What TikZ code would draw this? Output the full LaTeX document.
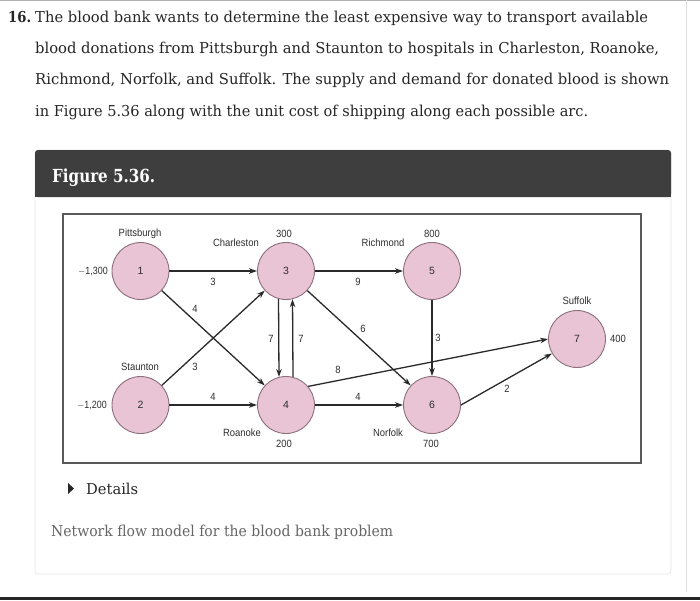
\documentclass[tikz,border=0pt]{standalone}
\usepackage{fontspec}
\usepackage{graphicx}
\setmainfont{DejaVu Serif}
\newfontfamily\figsans{Liberation Sans}
\usetikzlibrary{arrows.meta}
\definecolor{txtc}{HTML}{262626}
\definecolor{headc}{HTML}{3E3E3E}
\definecolor{capc}{HTML}{666666}
\definecolor{cardc}{HTML}{E4E4E4}
\definecolor{pinkc}{HTML}{E8C4D4}
\definecolor{nodeb}{HTML}{8C6E7C}
\definecolor{edgec}{HTML}{2A2A2A}
\definecolor{figtxt}{HTML}{2E2E2E}
\newcommand\fitw[2]{\resizebox{#1pt}{\height}{#2}}
\newcommand\nw[1]{\scalebox{0.9}[1]{#1}}
\tikzset{
  para/.style={anchor=base west, inner sep=0pt, text=txtc, font=\fontsize{15}{18}\selectfont},
  city/.style={circle, minimum size=57pt, inner sep=0pt, fill=pinkc, draw=nodeb, line width=0.9pt, text=figtxt, font=\figsans\fontsize{10.5}{12}\selectfont},
  lab/.style={inner sep=0pt, text=figtxt, font=\figsans\fontsize{10.5}{12}\selectfont},
  arr/.style={draw=edgec, line width=1.3pt, -{Stealth[length=8pt,width=5.5pt]}},
}
\begin{document}
\begin{tikzpicture}[x=1pt,y=-1pt]
\useasboundingbox (0,0) rectangle (700,600);
\fill[white] (0,0) rectangle (700,600);
% page frame lines
\draw[gray!60, line width=1pt] (0,0.5) -- (700,0.5);
\draw[gray!25, line width=0.8pt] (686,0) -- (686,592);
\draw[black!85, line width=3pt] (0,598) -- (700,598);
% question text
\node[para, font=\bfseries\fontsize{15}{18}\selectfont] (qnum) at (8,22) {\fitw{23}{16.}};
\node[para] (l1) at (35,22) {\fitw{613}{The blood bank wants to determine the least expensive way to transport available}};
\node[para] (l2) at (35,53) {\fitw{624}{blood donations from Pittsburgh and Staunton to hospitals in Charleston, Roanoke,}};
\node[para] (l3) at (35,84) {\fitw{634}{Richmond, Norfolk, and Suffolk. The supply and demand for donated blood is shown}};
\node[para] (l4) at (35,116) {\fitw{553}{in Figure 5.36 along with the unit cost of shipping along each possible arc.}};
% card
\draw[cardc, line width=0.8pt, rounded corners=3pt] (35,150) rectangle (671,574);
\fill[headc, rounded corners=3pt] (35,150) rectangle (671,197);
\fill[headc] (35,190) rectangle (671,197);
\node[anchor=base west, inner sep=0pt, text=white, font=\bfseries\fontsize{18}{20}\selectfont] (ftitle) at (52,182) {\fitw{103}{Figure 5.36.}};
% inner figure box
\draw[black!65, line width=1.2pt] (63,214) rectangle (641,463);
% nodes
\node[city] (n1) at (140.5,271) {1};
\node[city] (n3) at (286,271) {3};
\node[city] (n5) at (432,271) {5};
\node[city] (n7) at (577,339) {7};
\node[city] (n2) at (140.5,405) {2};
\node[city] (n4) at (286,405) {4};
\node[city] (n6) at (432,405) {6};
% node labels
\node[lab] (tpit) at (140,234) {\nw{Pittsburgh}};
\node[lab, anchor=east] (spit) at (108,271) {\scalebox{0.85}[1]{$-$1,300}};
\node[lab] (tcha) at (236,243) {\nw{Charleston}};
\node[lab] (dcha) at (284,234) {\nw{300}};
\node[lab] (tric) at (383,243) {\nw{Richmond}};
\node[lab] (dric) at (432,234) {\nw{800}};
\node[lab] (tsuf) at (577,301) {\nw{Suffolk}};
\node[lab] (dsuf) at (618,339) {\nw{400}};
\node[lab] (tsta) at (140,367) {\nw{Staunton}};
\node[lab, anchor=east] (ssta) at (107,405) {\scalebox{0.85}[1]{$-$1,200}};
\node[lab] (troa) at (242,433) {\nw{Roanoke}};
\node[lab] (droa) at (284,444) {\nw{200}};
\node[lab] (tnor) at (388,433) {\nw{Norfolk}};
\node[lab] (dnor) at (431,444) {\nw{700}};
% edges
\draw[arr] (n1) -- (n3);
\draw[arr] (n1) -- (n4);
\draw[arr] (n2) -- (n3);
\draw[arr] (n2) -- (n4);
\draw[arr] (n3.255.5) -- (n4.104.5);
\draw[arr] (n4.76.6) -- (n3.283.4);
\draw[arr] (n3) -- (n5);
\draw[arr] (n3) -- (n6);
\draw[arr] (n5) -- (n6);
\draw[arr] (n4.40) -- (n7.west);
\draw[arr] (n4) -- (n6);
\draw[arr] (n6.east) -- (n7.210);
% edge cost labels
\node[lab] (c13) at (213,282) {\nw{3}};
\node[lab] (c14) at (195,309) {\nw{4}};
\node[lab] (c23) at (195,367) {\nw{3}};
\node[lab] (c24) at (213,397) {\nw{4}};
\node[lab] (c34) at (271,339) {\nw{7}};
\node[lab] (c43) at (301,339) {\nw{7}};
\node[lab] (c35) at (358,282) {\nw{9}};
\node[lab] (c36) at (363,329) {\nw{6}};
\node[lab] (c56) at (438,338) {\nw{3}};
\node[lab] (c47) at (338,370) {\nw{8}};
\node[lab] (c46) at (358,397) {\nw{4}};
\node[lab] (c67) at (507,389) {\nw{2}};
% details and caption
\fill[txtc] (68,483) -- (74,488.5) -- (68,494) -- cycle;
\node[para] (det) at (86,494) {\fitw{52}{Details}};
\node[para, text=capc] (cap) at (51,536) {\fitw{342}{Network flow model for the blood bank problem}};
\end{tikzpicture}
\end{document}
